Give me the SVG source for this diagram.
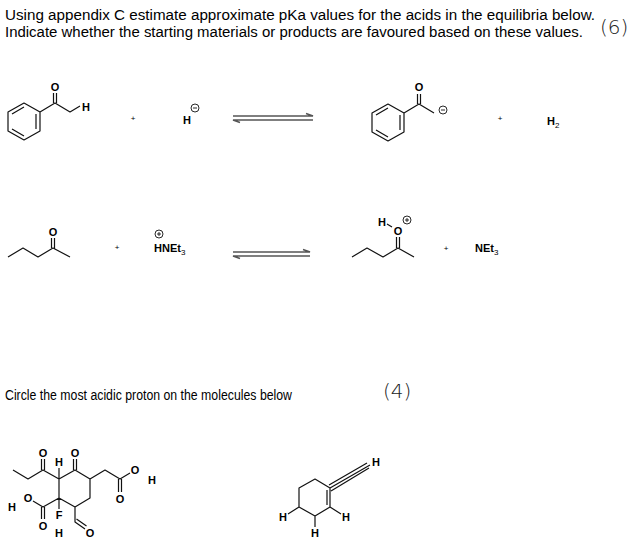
<svg xmlns="http://www.w3.org/2000/svg" width="636" height="543" viewBox="0 0 636 543">
<style>
text{font-family:"Liberation Sans",Arial,sans-serif;fill:#000}
.q{font-size:14px}
.a{font-size:11px;text-anchor:middle;font-weight:bold}
.g{font-size:11px;font-weight:bold}
.s{font-size:8px;font-weight:normal}
.b{fill:none;stroke:#111;stroke-width:1.2;stroke-linejoin:round}
.ar{fill:none;stroke:#555;stroke-width:1.5}
.hw{font-family:"DejaVu Sans",sans-serif;font-size:20px;fill:#222;font-weight:200}
.c{fill:none;stroke:#111;stroke-width:0.9}
</style>
<rect width="636" height="543" fill="#fff"/>
<text class="q" x="5" y="20" textLength="590" lengthAdjust="spacingAndGlyphs">Using appendix C estimate approximate pKa values for the acids in the equilibria below.</text>
<text class="q" x="5" y="37" textLength="578" lengthAdjust="spacingAndGlyphs">Indicate whether the starting materials or products are favoured based on these values.</text>
<text class="hw" x="600" y="34">(6)</text>

<g id="m1">
<path class="b" d="M24,103 L40,112 L40,131 L24,140 L8,131 L8,112 Z M12,114 L24,107 M36,114 L36,129 M12,129 L24,136 M40,112 L55,103 L70,112 L80,106 M53.5,103 L53.5,93 M56.5,103 L56.5,93"/>
<text class="a" x="55" y="91">O</text>
<text class="a" x="86" y="111">H</text>
</g>
<text class="a s" x="133" y="121">+</text>
<g id="hminus">
<text class="a" x="187" y="124">H</text>
<circle class="c" cx="195" cy="108" r="4"/><path class="c" d="M193,108 L197,108"/>
</g>
<g id="connectors">
<path class="ar" d="M233,116 L313,116 L306,113.5 M313,120 L233,120 L240,122.5"/>
<path class="ar" d="M233,252 L310,252 L303,249.5 M310,256 L233,256 L240,258.5"/>
</g>
<g id="p1">
<path class="b" d="M388,104 L404,113 L404,132 L388,141 L372,132 L372,113 Z M376,115 L388,108 M400,115 L400,130 M376,130 L388,137 M404,113 L419,104 L434,113 M417.5,104 L417.5,94 M420.5,104 L420.5,94"/>
<text class="a" x="419" y="91">O</text>
<circle class="c" cx="443" cy="110" r="4"/><path class="c" d="M441,110 L445,110"/>
</g>
<text class="a s" x="500" y="121">+</text>
<text class="g" x="547" y="125">H<tspan class="s" dy="3">2</tspan></text>

<g id="m2">
<path class="b" d="M8,257 L23,248 L38,257 L53,248 L70,257 M51.5,248 L51.5,238 M54.5,249 L54.5,238"/>
<text class="a" x="53" y="236">O</text>
</g>
<text class="a s" x="117" y="250">+</text>
<g id="hnet3">
<circle class="c" cx="159" cy="234" r="4"/><path class="c" d="M157,234 L161,234 M159,232 L159,236"/>
<text class="g" x="154" y="252">HNEt<tspan class="s" dy="3">3</tspan></text>
</g>
<g id="p2">
<path class="b" d="M352,257 L367,248 L383,257 L398,248 L414,257 M396.5,248 L396.5,237 M399.5,248 L399.5,237 M387,224 L392,227"/>
<text class="a" x="398" y="235">O</text>
<text class="a" x="382" y="226">H</text>
<circle class="c" cx="407" cy="220" r="4"/><path class="c" d="M405,220 L409,220 M407,218 L407,222"/>
</g>
<text class="a s" x="446" y="251">+</text>
<text class="g" x="475" y="252">NEt<tspan class="s" dy="3">3</tspan></text>

<text class="q" x="5" y="400" textLength="287" lengthAdjust="spacingAndGlyphs">Circle the most acidic proton on the molecules below</text>
<text class="hw" x="383" y="398">(4)</text>

<g id="m3">
<path class="b" d="M59,479 L75,470 L90,479 L90,498 L75,507 L59,498 Z M59,479 L59,468 M73.5,470 L73.5,459 M76.5,470 L76.5,459 M59,479 L43,470 L28,479 L13,470 M41.5,470 L41.5,459 M44.5,470 L44.5,459 M90,479 L105,470 L120,479 L130,473 M118.5,479 L118.5,492 M121.5,479 L121.5,492 M59,498 L59,509 M59,498 L43,507 L33,501 M41.5,507 L41.5,519 M44.5,507 L44.5,519 M75,507 L75,522 L85,529 M76.5,519 L86.5,526"/>
<text class="a" x="59" y="466">H</text>
<text class="a" x="75" y="457">O</text>
<text class="a" x="43" y="457">O</text>
<text class="a" x="135" y="474">O</text>
<text class="a" x="152" y="484">H</text>
<text class="a" x="120" y="503">O</text>
<text class="a" x="59" y="519">F</text>
<text class="a" x="28" y="502">O</text>
<text class="a" x="12" y="511">H</text>
<text class="a" x="43" y="530">O</text>
<text class="a" x="90" y="537">O</text>
<text class="a" x="59" y="537">H</text>
</g>

<g id="m4">
<path class="b" d="M330,488 L330,507 L315,516 L299,507 L299,488 L315,479 Z M327,490 L327,505 M330,488 L370,465 M329,485 L367,463 M331,491 L369,468 M299,507 L288,514 M315,516 L315,527 M330,507 L341,514"/>
<text class="a" x="376" y="466">H</text>
<text class="a" x="283" y="521">H</text>
<text class="a" x="315" y="537">H</text>
<text class="a" x="346" y="521">H</text>
</g>
</svg>
